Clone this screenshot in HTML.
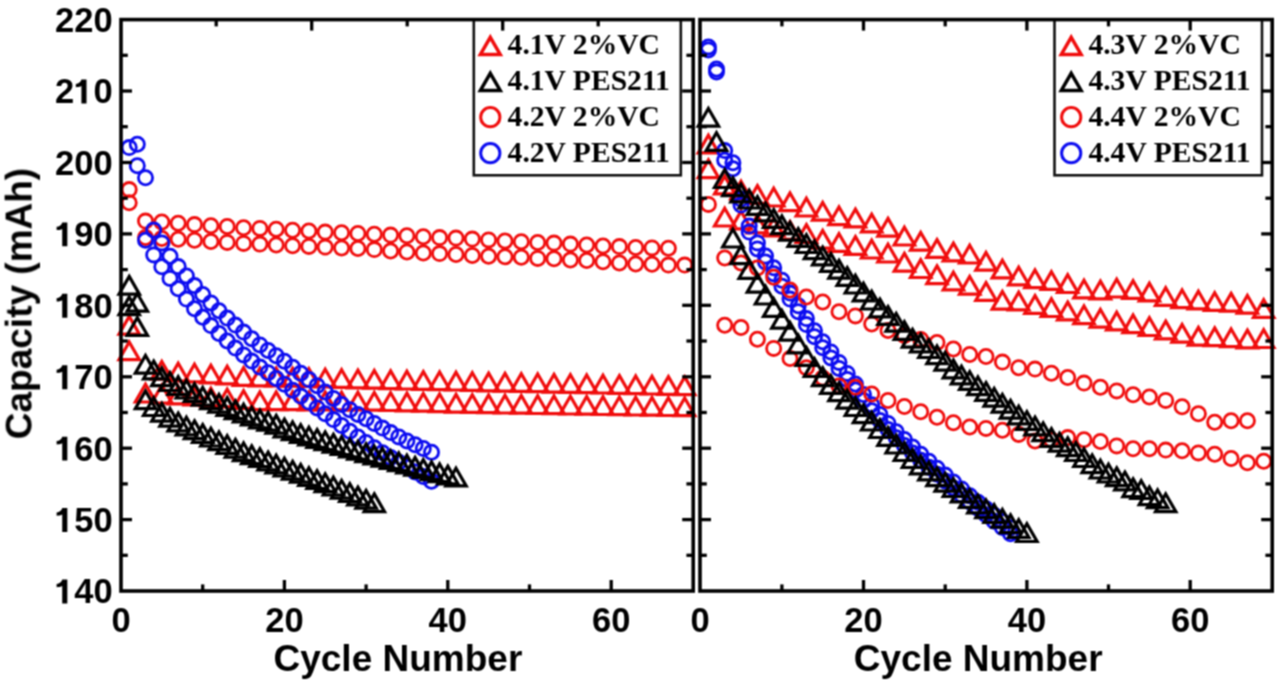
<!DOCTYPE html>
<html><head><meta charset="utf-8"><style>
html,body{margin:0;padding:0;background:#fff;width:1280px;height:680px;overflow:hidden}
svg{display:block}

.tk{font-family:"Liberation Sans",sans-serif;font-weight:bold;font-size:34.5px;fill:#000}
.ax{font-family:"Liberation Sans",sans-serif;font-weight:bold;font-size:37px;fill:#000}
.lg{font-family:"Liberation Serif",serif;font-weight:bold;font-size:29.2px;fill:#000}
</style></head><body>
<svg width="1280" height="680" viewBox="0 0 1280 680">
<defs><filter id="bl" x="0" y="0" width="1280" height="680" filterUnits="userSpaceOnUse" color-interpolation-filters="sRGB"><feConvolveMatrix order="3" kernelMatrix="1 2 1 2 4 2 1 2 1" divisor="16" edgeMode="duplicate"/></filter></defs>
<g filter="url(#bl)">
<rect width="1280" height="680" fill="#fff"/>
<g fill="none" stroke-width="3" stroke-linejoin="miter"><path d="M161.8 361.5L172.0 379.2L151.7 379.2Z" stroke="#f00d0d" stroke-width="3.2"/>
<path d="M178.2 363.3L188.4 381.0L168.0 381.0Z" stroke="#f00d0d" stroke-width="3.2"/>
<path d="M194.5 364.2L204.7 381.9L184.3 381.9Z" stroke="#f00d0d" stroke-width="3.2"/>
<path d="M210.9 365.2L221.1 382.9L200.7 382.9Z" stroke="#f00d0d" stroke-width="3.2"/>
<path d="M227.2 366.2L237.4 383.9L217.0 383.9Z" stroke="#f00d0d" stroke-width="3.2"/>
<path d="M243.6 367.7L253.8 385.4L233.4 385.4Z" stroke="#f00d0d" stroke-width="3.2"/>
<path d="M259.9 368.1L270.1 385.8L249.7 385.8Z" stroke="#f00d0d" stroke-width="3.2"/>
<path d="M276.2 368.3L286.4 386.0L266.0 386.0Z" stroke="#f00d0d" stroke-width="3.2"/>
<path d="M292.6 368.4L302.8 386.1L282.4 386.1Z" stroke="#f00d0d" stroke-width="3.2"/>
<path d="M308.9 368.7L319.1 386.4L298.7 386.4Z" stroke="#f00d0d" stroke-width="3.2"/>
<path d="M325.2 369.2L335.4 386.9L315.1 386.9Z" stroke="#f00d0d" stroke-width="3.2"/>
<path d="M341.6 369.7L351.8 387.4L331.4 387.4Z" stroke="#f00d0d" stroke-width="3.2"/>
<path d="M357.9 370.1L368.1 387.8L347.7 387.8Z" stroke="#f00d0d" stroke-width="3.2"/>
<path d="M374.3 370.5L384.5 388.2L364.1 388.2Z" stroke="#f00d0d" stroke-width="3.2"/>
<path d="M390.6 370.9L400.8 388.6L380.4 388.6Z" stroke="#f00d0d" stroke-width="3.2"/>
<path d="M406.9 371.3L417.1 389.0L396.8 389.0Z" stroke="#f00d0d" stroke-width="3.2"/>
<path d="M423.3 371.6L433.5 389.3L413.1 389.3Z" stroke="#f00d0d" stroke-width="3.2"/>
<path d="M439.6 372.0L449.8 389.7L429.4 389.7Z" stroke="#f00d0d" stroke-width="3.2"/>
<path d="M456.0 372.3L466.2 390.0L445.8 390.0Z" stroke="#f00d0d" stroke-width="3.2"/>
<path d="M472.3 372.7L482.5 390.4L462.1 390.4Z" stroke="#f00d0d" stroke-width="3.2"/>
<path d="M488.6 373.1L498.8 390.8L478.4 390.8Z" stroke="#f00d0d" stroke-width="3.2"/>
<path d="M505.0 373.4L515.2 391.1L494.8 391.1Z" stroke="#f00d0d" stroke-width="3.2"/>
<path d="M521.3 373.7L531.5 391.4L511.1 391.4Z" stroke="#f00d0d" stroke-width="3.2"/>
<path d="M537.7 374.0L547.9 391.7L527.5 391.7Z" stroke="#f00d0d" stroke-width="3.2"/>
<path d="M554.0 374.4L564.2 392.1L543.8 392.1Z" stroke="#f00d0d" stroke-width="3.2"/>
<path d="M570.4 374.7L580.6 392.4L560.1 392.4Z" stroke="#f00d0d" stroke-width="3.2"/>
<path d="M586.7 375.0L596.9 392.7L576.5 392.7Z" stroke="#f00d0d" stroke-width="3.2"/>
<path d="M603.0 375.3L613.2 393.0L592.8 393.0Z" stroke="#f00d0d" stroke-width="3.2"/>
<path d="M619.4 375.6L629.6 393.3L609.2 393.3Z" stroke="#f00d0d" stroke-width="3.2"/>
<path d="M635.7 376.0L645.9 393.7L625.5 393.7Z" stroke="#f00d0d" stroke-width="3.2"/>
<path d="M652.0 376.3L662.2 394.0L641.8 394.0Z" stroke="#f00d0d" stroke-width="3.2"/>
<path d="M668.4 376.6L678.6 394.3L658.2 394.3Z" stroke="#f00d0d" stroke-width="3.2"/>
<path d="M684.7 376.9L694.9 394.6L674.5 394.6Z" stroke="#f00d0d" stroke-width="3.2"/>
<path d="M145.5 384.3L155.7 402.0L135.3 402.0Z" stroke="#f00d0d" stroke-width="3.2"/>
<path d="M161.8 385.3L172.0 403.0L151.7 403.0Z" stroke="#f00d0d" stroke-width="3.2"/>
<path d="M178.2 386.2L188.4 403.9L168.0 403.9Z" stroke="#f00d0d" stroke-width="3.2"/>
<path d="M194.5 387.2L204.7 404.9L184.3 404.9Z" stroke="#f00d0d" stroke-width="3.2"/>
<path d="M210.9 388.2L221.1 405.9L200.7 405.9Z" stroke="#f00d0d" stroke-width="3.2"/>
<path d="M227.2 389.2L237.4 406.9L217.0 406.9Z" stroke="#f00d0d" stroke-width="3.2"/>
<path d="M243.6 390.7L253.8 408.4L233.4 408.4Z" stroke="#f00d0d" stroke-width="3.2"/>
<path d="M259.9 392.0L270.1 409.7L249.7 409.7Z" stroke="#f00d0d" stroke-width="3.2"/>
<path d="M276.2 392.0L286.4 409.7L266.0 409.7Z" stroke="#f00d0d" stroke-width="3.2"/>
<path d="M292.6 392.0L302.8 409.7L282.4 409.7Z" stroke="#f00d0d" stroke-width="3.2"/>
<path d="M308.9 392.1L319.1 409.8L298.7 409.8Z" stroke="#f00d0d" stroke-width="3.2"/>
<path d="M325.2 392.1L335.4 409.8L315.1 409.8Z" stroke="#f00d0d" stroke-width="3.2"/>
<path d="M341.6 392.2L351.8 409.9L331.4 409.9Z" stroke="#f00d0d" stroke-width="3.2"/>
<path d="M357.9 392.3L368.1 410.0L347.7 410.0Z" stroke="#f00d0d" stroke-width="3.2"/>
<path d="M374.3 392.5L384.5 410.2L364.1 410.2Z" stroke="#f00d0d" stroke-width="3.2"/>
<path d="M390.6 392.8L400.8 410.5L380.4 410.5Z" stroke="#f00d0d" stroke-width="3.2"/>
<path d="M406.9 393.1L417.1 410.8L396.8 410.8Z" stroke="#f00d0d" stroke-width="3.2"/>
<path d="M423.3 393.5L433.5 411.2L413.1 411.2Z" stroke="#f00d0d" stroke-width="3.2"/>
<path d="M439.6 394.0L449.8 411.7L429.4 411.7Z" stroke="#f00d0d" stroke-width="3.2"/>
<path d="M456.0 394.4L466.2 412.1L445.8 412.1Z" stroke="#f00d0d" stroke-width="3.2"/>
<path d="M472.3 394.7L482.5 412.4L462.1 412.4Z" stroke="#f00d0d" stroke-width="3.2"/>
<path d="M488.6 395.0L498.8 412.7L478.4 412.7Z" stroke="#f00d0d" stroke-width="3.2"/>
<path d="M505.0 395.3L515.2 413.0L494.8 413.0Z" stroke="#f00d0d" stroke-width="3.2"/>
<path d="M521.3 395.5L531.5 413.2L511.1 413.2Z" stroke="#f00d0d" stroke-width="3.2"/>
<path d="M537.7 395.8L547.9 413.5L527.5 413.5Z" stroke="#f00d0d" stroke-width="3.2"/>
<path d="M554.0 396.0L564.2 413.7L543.8 413.7Z" stroke="#f00d0d" stroke-width="3.2"/>
<path d="M570.4 396.3L580.6 414.0L560.1 414.0Z" stroke="#f00d0d" stroke-width="3.2"/>
<path d="M586.7 396.5L596.9 414.2L576.5 414.2Z" stroke="#f00d0d" stroke-width="3.2"/>
<path d="M603.0 396.8L613.2 414.5L592.8 414.5Z" stroke="#f00d0d" stroke-width="3.2"/>
<path d="M619.4 397.0L629.6 414.7L609.2 414.7Z" stroke="#f00d0d" stroke-width="3.2"/>
<path d="M635.7 397.3L645.9 415.0L625.5 415.0Z" stroke="#f00d0d" stroke-width="3.2"/>
<path d="M652.0 397.5L662.2 415.2L641.8 415.2Z" stroke="#f00d0d" stroke-width="3.2"/>
<path d="M668.4 397.8L678.6 415.5L658.2 415.5Z" stroke="#f00d0d" stroke-width="3.2"/>
<path d="M684.7 398.0L694.9 415.7L674.5 415.7Z" stroke="#f00d0d" stroke-width="3.2"/>
<path d="M129.2 316.4L139.4 334.1L119.0 334.1Z" stroke="#f00d0d" stroke-width="3.2"/>
<path d="M129.2 342.0L139.4 359.7L119.0 359.7Z" stroke="#f00d0d" stroke-width="3.2"/>
<circle cx="145.5" cy="221.1" r="7.1" stroke="#f00d0d" stroke-width="2.8"/>
<circle cx="161.8" cy="222.0" r="7.1" stroke="#f00d0d" stroke-width="2.8"/>
<circle cx="178.2" cy="223.3" r="7.1" stroke="#f00d0d" stroke-width="2.8"/>
<circle cx="194.5" cy="224.6" r="7.1" stroke="#f00d0d" stroke-width="2.8"/>
<circle cx="210.9" cy="225.8" r="7.1" stroke="#f00d0d" stroke-width="2.8"/>
<circle cx="227.2" cy="226.5" r="7.1" stroke="#f00d0d" stroke-width="2.8"/>
<circle cx="243.6" cy="227.7" r="7.1" stroke="#f00d0d" stroke-width="2.8"/>
<circle cx="259.9" cy="228.4" r="7.1" stroke="#f00d0d" stroke-width="2.8"/>
<circle cx="276.2" cy="229.3" r="7.1" stroke="#f00d0d" stroke-width="2.8"/>
<circle cx="292.6" cy="230.3" r="7.1" stroke="#f00d0d" stroke-width="2.8"/>
<circle cx="308.9" cy="231.0" r="7.1" stroke="#f00d0d" stroke-width="2.8"/>
<circle cx="325.2" cy="232.1" r="7.1" stroke="#f00d0d" stroke-width="2.8"/>
<circle cx="341.6" cy="232.8" r="7.1" stroke="#f00d0d" stroke-width="2.8"/>
<circle cx="357.9" cy="233.5" r="7.1" stroke="#f00d0d" stroke-width="2.8"/>
<circle cx="374.3" cy="234.3" r="7.1" stroke="#f00d0d" stroke-width="2.8"/>
<circle cx="390.6" cy="235.1" r="7.1" stroke="#f00d0d" stroke-width="2.8"/>
<circle cx="406.9" cy="235.8" r="7.1" stroke="#f00d0d" stroke-width="2.8"/>
<circle cx="423.3" cy="236.7" r="7.1" stroke="#f00d0d" stroke-width="2.8"/>
<circle cx="439.6" cy="237.6" r="7.1" stroke="#f00d0d" stroke-width="2.8"/>
<circle cx="456.0" cy="238.1" r="7.1" stroke="#f00d0d" stroke-width="2.8"/>
<circle cx="472.3" cy="239.1" r="7.1" stroke="#f00d0d" stroke-width="2.8"/>
<circle cx="488.6" cy="239.9" r="7.1" stroke="#f00d0d" stroke-width="2.8"/>
<circle cx="505.0" cy="241.0" r="7.1" stroke="#f00d0d" stroke-width="2.8"/>
<circle cx="521.3" cy="241.8" r="7.1" stroke="#f00d0d" stroke-width="2.8"/>
<circle cx="537.7" cy="242.5" r="7.1" stroke="#f00d0d" stroke-width="2.8"/>
<circle cx="554.0" cy="243.1" r="7.1" stroke="#f00d0d" stroke-width="2.8"/>
<circle cx="570.4" cy="244.1" r="7.1" stroke="#f00d0d" stroke-width="2.8"/>
<circle cx="586.7" cy="245.0" r="7.1" stroke="#f00d0d" stroke-width="2.8"/>
<circle cx="603.0" cy="246.0" r="7.1" stroke="#f00d0d" stroke-width="2.8"/>
<circle cx="619.4" cy="246.6" r="7.1" stroke="#f00d0d" stroke-width="2.8"/>
<circle cx="635.7" cy="247.5" r="7.1" stroke="#f00d0d" stroke-width="2.8"/>
<circle cx="652.0" cy="247.9" r="7.1" stroke="#f00d0d" stroke-width="2.8"/>
<circle cx="668.4" cy="248.3" r="7.1" stroke="#f00d0d" stroke-width="2.8"/>
<circle cx="145.5" cy="237.5" r="7.1" stroke="#f00d0d" stroke-width="2.8"/>
<circle cx="161.8" cy="238.5" r="7.1" stroke="#f00d0d" stroke-width="2.8"/>
<circle cx="178.2" cy="239.2" r="7.1" stroke="#f00d0d" stroke-width="2.8"/>
<circle cx="194.5" cy="240.2" r="7.1" stroke="#f00d0d" stroke-width="2.8"/>
<circle cx="210.9" cy="241.5" r="7.1" stroke="#f00d0d" stroke-width="2.8"/>
<circle cx="227.2" cy="242.4" r="7.1" stroke="#f00d0d" stroke-width="2.8"/>
<circle cx="243.6" cy="243.4" r="7.1" stroke="#f00d0d" stroke-width="2.8"/>
<circle cx="259.9" cy="244.1" r="7.1" stroke="#f00d0d" stroke-width="2.8"/>
<circle cx="276.2" cy="245.0" r="7.1" stroke="#f00d0d" stroke-width="2.8"/>
<circle cx="292.6" cy="245.7" r="7.1" stroke="#f00d0d" stroke-width="2.8"/>
<circle cx="308.9" cy="246.4" r="7.1" stroke="#f00d0d" stroke-width="2.8"/>
<circle cx="325.2" cy="247.1" r="7.1" stroke="#f00d0d" stroke-width="2.8"/>
<circle cx="341.6" cy="248.0" r="7.1" stroke="#f00d0d" stroke-width="2.8"/>
<circle cx="357.9" cy="248.5" r="7.1" stroke="#f00d0d" stroke-width="2.8"/>
<circle cx="374.3" cy="249.6" r="7.1" stroke="#f00d0d" stroke-width="2.8"/>
<circle cx="390.6" cy="251.0" r="7.1" stroke="#f00d0d" stroke-width="2.8"/>
<circle cx="406.9" cy="252.0" r="7.1" stroke="#f00d0d" stroke-width="2.8"/>
<circle cx="423.3" cy="253.0" r="7.1" stroke="#f00d0d" stroke-width="2.8"/>
<circle cx="439.6" cy="253.6" r="7.1" stroke="#f00d0d" stroke-width="2.8"/>
<circle cx="456.0" cy="254.5" r="7.1" stroke="#f00d0d" stroke-width="2.8"/>
<circle cx="472.3" cy="255.5" r="7.1" stroke="#f00d0d" stroke-width="2.8"/>
<circle cx="488.6" cy="256.2" r="7.1" stroke="#f00d0d" stroke-width="2.8"/>
<circle cx="505.0" cy="256.8" r="7.1" stroke="#f00d0d" stroke-width="2.8"/>
<circle cx="521.3" cy="257.3" r="7.1" stroke="#f00d0d" stroke-width="2.8"/>
<circle cx="537.7" cy="258.4" r="7.1" stroke="#f00d0d" stroke-width="2.8"/>
<circle cx="554.0" cy="258.8" r="7.1" stroke="#f00d0d" stroke-width="2.8"/>
<circle cx="570.4" cy="260.0" r="7.1" stroke="#f00d0d" stroke-width="2.8"/>
<circle cx="586.7" cy="260.5" r="7.1" stroke="#f00d0d" stroke-width="2.8"/>
<circle cx="603.0" cy="261.7" r="7.1" stroke="#f00d0d" stroke-width="2.8"/>
<circle cx="619.4" cy="263.0" r="7.1" stroke="#f00d0d" stroke-width="2.8"/>
<circle cx="635.7" cy="264.0" r="7.1" stroke="#f00d0d" stroke-width="2.8"/>
<circle cx="652.0" cy="264.3" r="7.1" stroke="#f00d0d" stroke-width="2.8"/>
<circle cx="668.4" cy="265.1" r="7.1" stroke="#f00d0d" stroke-width="2.8"/>
<circle cx="684.7" cy="265.1" r="7.1" stroke="#f00d0d" stroke-width="2.8"/>
<circle cx="129.2" cy="189.6" r="7.1" stroke="#f00d0d" stroke-width="2.8"/>
<circle cx="129.2" cy="202.8" r="7.1" stroke="#f00d0d" stroke-width="2.8"/>
<circle cx="153.7" cy="230.1" r="7.1" stroke="#0d0df0" stroke-width="2.8"/>
<circle cx="161.8" cy="242.9" r="7.1" stroke="#0d0df0" stroke-width="2.8"/>
<circle cx="170.0" cy="256.2" r="7.1" stroke="#0d0df0" stroke-width="2.8"/>
<circle cx="178.2" cy="266.6" r="7.1" stroke="#0d0df0" stroke-width="2.8"/>
<circle cx="186.4" cy="275.9" r="7.1" stroke="#0d0df0" stroke-width="2.8"/>
<circle cx="194.5" cy="285.6" r="7.1" stroke="#0d0df0" stroke-width="2.8"/>
<circle cx="202.7" cy="294.5" r="7.1" stroke="#0d0df0" stroke-width="2.8"/>
<circle cx="210.9" cy="302.9" r="7.1" stroke="#0d0df0" stroke-width="2.8"/>
<circle cx="219.0" cy="310.8" r="7.1" stroke="#0d0df0" stroke-width="2.8"/>
<circle cx="227.2" cy="318.1" r="7.1" stroke="#0d0df0" stroke-width="2.8"/>
<circle cx="235.4" cy="325.1" r="7.1" stroke="#0d0df0" stroke-width="2.8"/>
<circle cx="243.6" cy="332.1" r="7.1" stroke="#0d0df0" stroke-width="2.8"/>
<circle cx="251.7" cy="338.8" r="7.1" stroke="#0d0df0" stroke-width="2.8"/>
<circle cx="259.9" cy="344.9" r="7.1" stroke="#0d0df0" stroke-width="2.8"/>
<circle cx="268.1" cy="350.5" r="7.1" stroke="#0d0df0" stroke-width="2.8"/>
<circle cx="276.2" cy="355.8" r="7.1" stroke="#0d0df0" stroke-width="2.8"/>
<circle cx="284.4" cy="361.3" r="7.1" stroke="#0d0df0" stroke-width="2.8"/>
<circle cx="292.6" cy="367.2" r="7.1" stroke="#0d0df0" stroke-width="2.8"/>
<circle cx="300.7" cy="373.3" r="7.1" stroke="#0d0df0" stroke-width="2.8"/>
<circle cx="308.9" cy="379.6" r="7.1" stroke="#0d0df0" stroke-width="2.8"/>
<circle cx="317.1" cy="385.8" r="7.1" stroke="#0d0df0" stroke-width="2.8"/>
<circle cx="325.2" cy="392.0" r="7.1" stroke="#0d0df0" stroke-width="2.8"/>
<circle cx="333.4" cy="398.4" r="7.1" stroke="#0d0df0" stroke-width="2.8"/>
<circle cx="341.6" cy="404.5" r="7.1" stroke="#0d0df0" stroke-width="2.8"/>
<circle cx="349.8" cy="409.8" r="7.1" stroke="#0d0df0" stroke-width="2.8"/>
<circle cx="357.9" cy="414.4" r="7.1" stroke="#0d0df0" stroke-width="2.8"/>
<circle cx="366.1" cy="418.8" r="7.1" stroke="#0d0df0" stroke-width="2.8"/>
<circle cx="374.3" cy="423.4" r="7.1" stroke="#0d0df0" stroke-width="2.8"/>
<circle cx="382.4" cy="428.1" r="7.1" stroke="#0d0df0" stroke-width="2.8"/>
<circle cx="390.6" cy="432.6" r="7.1" stroke="#0d0df0" stroke-width="2.8"/>
<circle cx="398.8" cy="436.9" r="7.1" stroke="#0d0df0" stroke-width="2.8"/>
<circle cx="406.9" cy="440.9" r="7.1" stroke="#0d0df0" stroke-width="2.8"/>
<circle cx="415.1" cy="444.7" r="7.1" stroke="#0d0df0" stroke-width="2.8"/>
<circle cx="423.3" cy="448.5" r="7.1" stroke="#0d0df0" stroke-width="2.8"/>
<circle cx="431.5" cy="452.2" r="7.1" stroke="#0d0df0" stroke-width="2.8"/>
<circle cx="145.5" cy="240.3" r="7.1" stroke="#0d0df0" stroke-width="2.8"/>
<circle cx="153.7" cy="254.9" r="7.1" stroke="#0d0df0" stroke-width="2.8"/>
<circle cx="161.8" cy="266.7" r="7.1" stroke="#0d0df0" stroke-width="2.8"/>
<circle cx="170.0" cy="278.4" r="7.1" stroke="#0d0df0" stroke-width="2.8"/>
<circle cx="178.2" cy="288.7" r="7.1" stroke="#0d0df0" stroke-width="2.8"/>
<circle cx="186.4" cy="299.1" r="7.1" stroke="#0d0df0" stroke-width="2.8"/>
<circle cx="194.5" cy="308.7" r="7.1" stroke="#0d0df0" stroke-width="2.8"/>
<circle cx="202.7" cy="317.3" r="7.1" stroke="#0d0df0" stroke-width="2.8"/>
<circle cx="210.9" cy="325.6" r="7.1" stroke="#0d0df0" stroke-width="2.8"/>
<circle cx="219.0" cy="333.5" r="7.1" stroke="#0d0df0" stroke-width="2.8"/>
<circle cx="227.2" cy="341.0" r="7.1" stroke="#0d0df0" stroke-width="2.8"/>
<circle cx="235.4" cy="348.1" r="7.1" stroke="#0d0df0" stroke-width="2.8"/>
<circle cx="243.6" cy="354.9" r="7.1" stroke="#0d0df0" stroke-width="2.8"/>
<circle cx="251.7" cy="361.1" r="7.1" stroke="#0d0df0" stroke-width="2.8"/>
<circle cx="259.9" cy="367.1" r="7.1" stroke="#0d0df0" stroke-width="2.8"/>
<circle cx="268.1" cy="372.8" r="7.1" stroke="#0d0df0" stroke-width="2.8"/>
<circle cx="276.2" cy="378.5" r="7.1" stroke="#0d0df0" stroke-width="2.8"/>
<circle cx="284.4" cy="384.3" r="7.1" stroke="#0d0df0" stroke-width="2.8"/>
<circle cx="292.6" cy="390.2" r="7.1" stroke="#0d0df0" stroke-width="2.8"/>
<circle cx="300.7" cy="396.1" r="7.1" stroke="#0d0df0" stroke-width="2.8"/>
<circle cx="308.9" cy="402.1" r="7.1" stroke="#0d0df0" stroke-width="2.8"/>
<circle cx="317.1" cy="407.9" r="7.1" stroke="#0d0df0" stroke-width="2.8"/>
<circle cx="325.2" cy="413.8" r="7.1" stroke="#0d0df0" stroke-width="2.8"/>
<circle cx="333.4" cy="419.6" r="7.1" stroke="#0d0df0" stroke-width="2.8"/>
<circle cx="341.6" cy="425.5" r="7.1" stroke="#0d0df0" stroke-width="2.8"/>
<circle cx="349.8" cy="431.3" r="7.1" stroke="#0d0df0" stroke-width="2.8"/>
<circle cx="357.9" cy="437.0" r="7.1" stroke="#0d0df0" stroke-width="2.8"/>
<circle cx="366.1" cy="442.5" r="7.1" stroke="#0d0df0" stroke-width="2.8"/>
<circle cx="374.3" cy="447.7" r="7.1" stroke="#0d0df0" stroke-width="2.8"/>
<circle cx="382.4" cy="452.7" r="7.1" stroke="#0d0df0" stroke-width="2.8"/>
<circle cx="390.6" cy="457.5" r="7.1" stroke="#0d0df0" stroke-width="2.8"/>
<circle cx="398.8" cy="462.3" r="7.1" stroke="#0d0df0" stroke-width="2.8"/>
<circle cx="406.9" cy="467.1" r="7.1" stroke="#0d0df0" stroke-width="2.8"/>
<circle cx="415.1" cy="471.9" r="7.1" stroke="#0d0df0" stroke-width="2.8"/>
<circle cx="423.3" cy="476.6" r="7.1" stroke="#0d0df0" stroke-width="2.8"/>
<circle cx="431.5" cy="481.3" r="7.1" stroke="#0d0df0" stroke-width="2.8"/>
<circle cx="129.2" cy="147.6" r="7.1" stroke="#0d0df0" stroke-width="2.8"/>
<circle cx="137.3" cy="144.3" r="7.1" stroke="#0d0df0" stroke-width="2.8"/>
<circle cx="137.3" cy="165.7" r="7.1" stroke="#0d0df0" stroke-width="2.8"/>
<circle cx="145.5" cy="177.8" r="7.1" stroke="#0d0df0" stroke-width="2.8"/>
<path d="M145.5 355.5L155.7 373.2L135.3 373.2Z" stroke="#000" stroke-width="3.2"/>
<path d="M153.7 361.1L163.9 378.8L143.5 378.8Z" stroke="#000" stroke-width="3.2"/>
<path d="M161.8 368.0L172.0 385.7L151.7 385.7Z" stroke="#000" stroke-width="3.2"/>
<path d="M170.0 372.8L180.2 390.5L159.8 390.5Z" stroke="#000" stroke-width="3.2"/>
<path d="M178.2 376.7L188.4 394.4L168.0 394.4Z" stroke="#000" stroke-width="3.2"/>
<path d="M186.4 380.3L196.6 398.0L176.2 398.0Z" stroke="#000" stroke-width="3.2"/>
<path d="M194.5 383.7L204.7 401.4L184.3 401.4Z" stroke="#000" stroke-width="3.2"/>
<path d="M202.7 387.5L212.9 405.2L192.5 405.2Z" stroke="#000" stroke-width="3.2"/>
<path d="M210.9 390.9L221.1 408.6L200.7 408.6Z" stroke="#000" stroke-width="3.2"/>
<path d="M219.0 394.5L229.2 412.2L208.8 412.2Z" stroke="#000" stroke-width="3.2"/>
<path d="M227.2 397.6L237.4 415.3L217.0 415.3Z" stroke="#000" stroke-width="3.2"/>
<path d="M235.4 400.9L245.6 418.6L225.2 418.6Z" stroke="#000" stroke-width="3.2"/>
<path d="M243.6 404.2L253.8 421.9L233.4 421.9Z" stroke="#000" stroke-width="3.2"/>
<path d="M251.7 407.2L261.9 424.9L241.5 424.9Z" stroke="#000" stroke-width="3.2"/>
<path d="M259.9 410.1L270.1 427.8L249.7 427.8Z" stroke="#000" stroke-width="3.2"/>
<path d="M268.1 412.5L278.3 430.2L257.9 430.2Z" stroke="#000" stroke-width="3.2"/>
<path d="M276.2 415.4L286.4 433.1L266.0 433.1Z" stroke="#000" stroke-width="3.2"/>
<path d="M284.4 419.1L294.6 436.8L274.2 436.8Z" stroke="#000" stroke-width="3.2"/>
<path d="M292.6 422.0L302.8 439.7L282.4 439.7Z" stroke="#000" stroke-width="3.2"/>
<path d="M300.7 424.7L310.9 442.4L290.5 442.4Z" stroke="#000" stroke-width="3.2"/>
<path d="M308.9 427.2L319.1 444.9L298.7 444.9Z" stroke="#000" stroke-width="3.2"/>
<path d="M317.1 429.6L327.3 447.3L306.9 447.3Z" stroke="#000" stroke-width="3.2"/>
<path d="M325.2 432.0L335.4 449.7L315.1 449.7Z" stroke="#000" stroke-width="3.2"/>
<path d="M333.4 434.4L343.6 452.1L323.2 452.1Z" stroke="#000" stroke-width="3.2"/>
<path d="M341.6 436.8L351.8 454.5L331.4 454.5Z" stroke="#000" stroke-width="3.2"/>
<path d="M349.8 439.2L360.0 456.9L339.6 456.9Z" stroke="#000" stroke-width="3.2"/>
<path d="M357.9 441.5L368.1 459.2L347.7 459.2Z" stroke="#000" stroke-width="3.2"/>
<path d="M366.1 443.9L376.3 461.6L355.9 461.6Z" stroke="#000" stroke-width="3.2"/>
<path d="M374.3 446.2L384.5 463.9L364.1 463.9Z" stroke="#000" stroke-width="3.2"/>
<path d="M382.4 448.5L392.6 466.2L372.2 466.2Z" stroke="#000" stroke-width="3.2"/>
<path d="M390.6 450.8L400.8 468.5L380.4 468.5Z" stroke="#000" stroke-width="3.2"/>
<path d="M398.8 453.0L409.0 470.7L388.6 470.7Z" stroke="#000" stroke-width="3.2"/>
<path d="M406.9 455.3L417.1 473.0L396.8 473.0Z" stroke="#000" stroke-width="3.2"/>
<path d="M415.1 457.5L425.3 475.2L404.9 475.2Z" stroke="#000" stroke-width="3.2"/>
<path d="M423.3 459.7L433.5 477.4L413.1 477.4Z" stroke="#000" stroke-width="3.2"/>
<path d="M431.5 461.9L441.7 479.6L421.3 479.6Z" stroke="#000" stroke-width="3.2"/>
<path d="M439.6 464.0L449.8 481.7L429.4 481.7Z" stroke="#000" stroke-width="3.2"/>
<path d="M447.8 466.1L458.0 483.8L437.6 483.8Z" stroke="#000" stroke-width="3.2"/>
<path d="M456.0 468.2L466.2 485.9L445.8 485.9Z" stroke="#000" stroke-width="3.2"/>
<path d="M145.5 391.0L155.7 408.7L135.3 408.7Z" stroke="#000" stroke-width="3.2"/>
<path d="M153.7 397.8L163.9 415.5L143.5 415.5Z" stroke="#000" stroke-width="3.2"/>
<path d="M161.8 403.4L172.0 421.1L151.7 421.1Z" stroke="#000" stroke-width="3.2"/>
<path d="M170.0 408.5L180.2 426.2L159.8 426.2Z" stroke="#000" stroke-width="3.2"/>
<path d="M178.2 413.1L188.4 430.8L168.0 430.8Z" stroke="#000" stroke-width="3.2"/>
<path d="M186.4 417.2L196.6 434.9L176.2 434.9Z" stroke="#000" stroke-width="3.2"/>
<path d="M194.5 420.9L204.7 438.6L184.3 438.6Z" stroke="#000" stroke-width="3.2"/>
<path d="M202.7 424.6L212.9 442.3L192.5 442.3Z" stroke="#000" stroke-width="3.2"/>
<path d="M210.9 428.3L221.1 446.0L200.7 446.0Z" stroke="#000" stroke-width="3.2"/>
<path d="M219.0 432.0L229.2 449.7L208.8 449.7Z" stroke="#000" stroke-width="3.2"/>
<path d="M227.2 435.7L237.4 453.4L217.0 453.4Z" stroke="#000" stroke-width="3.2"/>
<path d="M235.4 439.4L245.6 457.1L225.2 457.1Z" stroke="#000" stroke-width="3.2"/>
<path d="M243.6 443.0L253.8 460.7L233.4 460.7Z" stroke="#000" stroke-width="3.2"/>
<path d="M251.7 445.9L261.9 463.6L241.5 463.6Z" stroke="#000" stroke-width="3.2"/>
<path d="M259.9 448.8L270.1 466.5L249.7 466.5Z" stroke="#000" stroke-width="3.2"/>
<path d="M268.1 452.1L278.3 469.8L257.9 469.8Z" stroke="#000" stroke-width="3.2"/>
<path d="M276.2 455.2L286.4 472.9L266.0 472.9Z" stroke="#000" stroke-width="3.2"/>
<path d="M284.4 458.3L294.6 476.0L274.2 476.0Z" stroke="#000" stroke-width="3.2"/>
<path d="M292.6 461.4L302.8 479.1L282.4 479.1Z" stroke="#000" stroke-width="3.2"/>
<path d="M300.7 464.5L310.9 482.2L290.5 482.2Z" stroke="#000" stroke-width="3.2"/>
<path d="M308.9 467.7L319.1 485.4L298.7 485.4Z" stroke="#000" stroke-width="3.2"/>
<path d="M317.1 470.8L327.3 488.5L306.9 488.5Z" stroke="#000" stroke-width="3.2"/>
<path d="M325.2 474.0L335.4 491.7L315.1 491.7Z" stroke="#000" stroke-width="3.2"/>
<path d="M333.4 477.3L343.6 495.0L323.2 495.0Z" stroke="#000" stroke-width="3.2"/>
<path d="M341.6 480.5L351.8 498.2L331.4 498.2Z" stroke="#000" stroke-width="3.2"/>
<path d="M349.8 483.8L360.0 501.5L339.6 501.5Z" stroke="#000" stroke-width="3.2"/>
<path d="M357.9 487.1L368.1 504.8L347.7 504.8Z" stroke="#000" stroke-width="3.2"/>
<path d="M366.1 490.5L376.3 508.2L355.9 508.2Z" stroke="#000" stroke-width="3.2"/>
<path d="M374.3 493.9L384.5 511.6L364.1 511.6Z" stroke="#000" stroke-width="3.2"/>
<path d="M129.2 276.4L139.4 294.1L119.0 294.1Z" stroke="#000" stroke-width="3.2"/>
<path d="M137.3 293.5L147.5 311.2L127.1 311.2Z" stroke="#000" stroke-width="3.2"/>
<path d="M129.2 297.0L139.4 314.7L119.0 314.7Z" stroke="#000" stroke-width="3.2"/>
<path d="M137.3 317.6L147.5 335.3L127.1 335.3Z" stroke="#000" stroke-width="3.2"/></g>
<g fill="none" stroke-width="3" stroke-linejoin="miter"><path d="M757.4 185.6L767.6 203.3L747.2 203.3Z" stroke="#f00d0d" stroke-width="3.2"/>
<path d="M773.7 188.3L783.9 206.0L763.5 206.0Z" stroke="#f00d0d" stroke-width="3.2"/>
<path d="M790.0 193.0L800.2 210.7L779.8 210.7Z" stroke="#f00d0d" stroke-width="3.2"/>
<path d="M806.4 198.3L816.6 216.0L796.2 216.0Z" stroke="#f00d0d" stroke-width="3.2"/>
<path d="M822.7 202.5L832.9 220.2L812.5 220.2Z" stroke="#f00d0d" stroke-width="3.2"/>
<path d="M839.0 207.0L849.2 224.7L828.8 224.7Z" stroke="#f00d0d" stroke-width="3.2"/>
<path d="M855.4 209.1L865.6 226.8L845.2 226.8Z" stroke="#f00d0d" stroke-width="3.2"/>
<path d="M871.7 214.2L881.9 231.9L861.5 231.9Z" stroke="#f00d0d" stroke-width="3.2"/>
<path d="M888.0 218.4L898.2 236.1L877.8 236.1Z" stroke="#f00d0d" stroke-width="3.2"/>
<path d="M904.4 227.3L914.6 245.0L894.2 245.0Z" stroke="#f00d0d" stroke-width="3.2"/>
<path d="M920.7 232.5L930.9 250.2L910.5 250.2Z" stroke="#f00d0d" stroke-width="3.2"/>
<path d="M937.0 239.6L947.2 257.3L926.8 257.3Z" stroke="#f00d0d" stroke-width="3.2"/>
<path d="M953.4 243.1L963.6 260.8L943.2 260.8Z" stroke="#f00d0d" stroke-width="3.2"/>
<path d="M969.7 245.3L979.9 263.0L959.5 263.0Z" stroke="#f00d0d" stroke-width="3.2"/>
<path d="M986.0 252.5L996.2 270.2L975.8 270.2Z" stroke="#f00d0d" stroke-width="3.2"/>
<path d="M1002.4 260.2L1012.6 277.9L992.2 277.9Z" stroke="#f00d0d" stroke-width="3.2"/>
<path d="M1018.7 267.2L1028.9 284.9L1008.5 284.9Z" stroke="#f00d0d" stroke-width="3.2"/>
<path d="M1035.0 270.0L1045.2 287.7L1024.8 287.7Z" stroke="#f00d0d" stroke-width="3.2"/>
<path d="M1051.4 271.7L1061.6 289.4L1041.2 289.4Z" stroke="#f00d0d" stroke-width="3.2"/>
<path d="M1067.7 274.8L1077.9 292.5L1057.5 292.5Z" stroke="#f00d0d" stroke-width="3.2"/>
<path d="M1084.0 280.2L1094.2 297.9L1073.8 297.9Z" stroke="#f00d0d" stroke-width="3.2"/>
<path d="M1100.4 281.1L1110.6 298.8L1090.2 298.8Z" stroke="#f00d0d" stroke-width="3.2"/>
<path d="M1116.7 279.3L1126.9 297.0L1106.5 297.0Z" stroke="#f00d0d" stroke-width="3.2"/>
<path d="M1133.1 280.7L1143.3 298.4L1122.9 298.4Z" stroke="#f00d0d" stroke-width="3.2"/>
<path d="M1149.4 283.2L1159.6 300.9L1139.2 300.9Z" stroke="#f00d0d" stroke-width="3.2"/>
<path d="M1165.7 287.7L1175.9 305.4L1155.5 305.4Z" stroke="#f00d0d" stroke-width="3.2"/>
<path d="M1182.1 290.0L1192.3 307.7L1171.9 307.7Z" stroke="#f00d0d" stroke-width="3.2"/>
<path d="M1198.4 291.2L1208.6 308.9L1188.2 308.9Z" stroke="#f00d0d" stroke-width="3.2"/>
<path d="M1214.7 292.7L1224.9 310.4L1204.5 310.4Z" stroke="#f00d0d" stroke-width="3.2"/>
<path d="M1231.1 293.4L1241.3 311.1L1220.9 311.1Z" stroke="#f00d0d" stroke-width="3.2"/>
<path d="M1247.4 295.5L1257.6 313.2L1237.2 313.2Z" stroke="#f00d0d" stroke-width="3.2"/>
<path d="M1263.7 299.7L1273.9 317.4L1253.5 317.4Z" stroke="#f00d0d" stroke-width="3.2"/>
<path d="M724.7 208.3L734.9 226.0L714.5 226.0Z" stroke="#f00d0d" stroke-width="3.2"/>
<path d="M741.0 211.2L751.2 228.9L730.8 228.9Z" stroke="#f00d0d" stroke-width="3.2"/>
<path d="M757.4 215.2L767.6 232.9L747.2 232.9Z" stroke="#f00d0d" stroke-width="3.2"/>
<path d="M773.7 218.1L783.9 235.8L763.5 235.8Z" stroke="#f00d0d" stroke-width="3.2"/>
<path d="M790.0 221.6L800.2 239.3L779.8 239.3Z" stroke="#f00d0d" stroke-width="3.2"/>
<path d="M806.4 224.6L816.6 242.3L796.2 242.3Z" stroke="#f00d0d" stroke-width="3.2"/>
<path d="M822.7 230.5L832.9 248.2L812.5 248.2Z" stroke="#f00d0d" stroke-width="3.2"/>
<path d="M839.0 233.7L849.2 251.4L828.8 251.4Z" stroke="#f00d0d" stroke-width="3.2"/>
<path d="M855.4 236.6L865.6 254.3L845.2 254.3Z" stroke="#f00d0d" stroke-width="3.2"/>
<path d="M871.7 240.3L881.9 258.0L861.5 258.0Z" stroke="#f00d0d" stroke-width="3.2"/>
<path d="M888.0 244.3L898.2 262.0L877.8 262.0Z" stroke="#f00d0d" stroke-width="3.2"/>
<path d="M904.4 253.4L914.6 271.1L894.2 271.1Z" stroke="#f00d0d" stroke-width="3.2"/>
<path d="M920.7 259.8L930.9 277.5L910.5 277.5Z" stroke="#f00d0d" stroke-width="3.2"/>
<path d="M937.0 265.9L947.2 283.6L926.8 283.6Z" stroke="#f00d0d" stroke-width="3.2"/>
<path d="M953.4 272.2L963.6 289.9L943.2 289.9Z" stroke="#f00d0d" stroke-width="3.2"/>
<path d="M969.7 276.5L979.9 294.2L959.5 294.2Z" stroke="#f00d0d" stroke-width="3.2"/>
<path d="M986.0 282.6L996.2 300.3L975.8 300.3Z" stroke="#f00d0d" stroke-width="3.2"/>
<path d="M1002.4 291.5L1012.6 309.2L992.2 309.2Z" stroke="#f00d0d" stroke-width="3.2"/>
<path d="M1018.7 292.2L1028.9 309.9L1008.5 309.9Z" stroke="#f00d0d" stroke-width="3.2"/>
<path d="M1035.0 295.6L1045.2 313.3L1024.8 313.3Z" stroke="#f00d0d" stroke-width="3.2"/>
<path d="M1051.4 298.8L1061.6 316.5L1041.2 316.5Z" stroke="#f00d0d" stroke-width="3.2"/>
<path d="M1067.7 302.1L1077.9 319.8L1057.5 319.8Z" stroke="#f00d0d" stroke-width="3.2"/>
<path d="M1084.0 306.0L1094.2 323.7L1073.8 323.7Z" stroke="#f00d0d" stroke-width="3.2"/>
<path d="M1100.4 309.5L1110.6 327.2L1090.2 327.2Z" stroke="#f00d0d" stroke-width="3.2"/>
<path d="M1116.7 312.2L1126.9 329.9L1106.5 329.9Z" stroke="#f00d0d" stroke-width="3.2"/>
<path d="M1133.1 315.0L1143.3 332.7L1122.9 332.7Z" stroke="#f00d0d" stroke-width="3.2"/>
<path d="M1149.4 317.8L1159.6 335.5L1139.2 335.5Z" stroke="#f00d0d" stroke-width="3.2"/>
<path d="M1165.7 321.1L1175.9 338.8L1155.5 338.8Z" stroke="#f00d0d" stroke-width="3.2"/>
<path d="M1182.1 324.5L1192.3 342.2L1171.9 342.2Z" stroke="#f00d0d" stroke-width="3.2"/>
<path d="M1198.4 327.4L1208.6 345.1L1188.2 345.1Z" stroke="#f00d0d" stroke-width="3.2"/>
<path d="M1214.7 327.9L1224.9 345.6L1204.5 345.6Z" stroke="#f00d0d" stroke-width="3.2"/>
<path d="M1231.1 329.0L1241.3 346.7L1220.9 346.7Z" stroke="#f00d0d" stroke-width="3.2"/>
<path d="M1247.4 330.1L1257.6 347.8L1237.2 347.8Z" stroke="#f00d0d" stroke-width="3.2"/>
<path d="M1263.7 329.8L1273.9 347.5L1253.5 347.5Z" stroke="#f00d0d" stroke-width="3.2"/>
<path d="M708.4 135.2L718.6 152.9L698.2 152.9Z" stroke="#f00d0d" stroke-width="3.2"/>
<path d="M708.4 159.9L718.6 177.6L698.2 177.6Z" stroke="#f00d0d" stroke-width="3.2"/>
<path d="M724.7 176.2L734.9 193.9L714.5 193.9Z" stroke="#f00d0d" stroke-width="3.2"/>
<path d="M741.0 181.2L751.2 198.9L730.8 198.9Z" stroke="#f00d0d" stroke-width="3.2"/>
<circle cx="732.9" cy="162.8" r="7.1" stroke="#0d0df0" stroke-width="2.8"/>
<circle cx="741.0" cy="199.1" r="7.1" stroke="#0d0df0" stroke-width="2.8"/>
<circle cx="749.2" cy="226.1" r="7.1" stroke="#0d0df0" stroke-width="2.8"/>
<circle cx="757.4" cy="242.9" r="7.1" stroke="#0d0df0" stroke-width="2.8"/>
<circle cx="765.5" cy="256.0" r="7.1" stroke="#0d0df0" stroke-width="2.8"/>
<circle cx="773.7" cy="267.8" r="7.1" stroke="#0d0df0" stroke-width="2.8"/>
<circle cx="781.9" cy="280.2" r="7.1" stroke="#0d0df0" stroke-width="2.8"/>
<circle cx="790.0" cy="293.1" r="7.1" stroke="#0d0df0" stroke-width="2.8"/>
<circle cx="798.2" cy="305.8" r="7.1" stroke="#0d0df0" stroke-width="2.8"/>
<circle cx="806.4" cy="318.6" r="7.1" stroke="#0d0df0" stroke-width="2.8"/>
<circle cx="814.5" cy="330.7" r="7.1" stroke="#0d0df0" stroke-width="2.8"/>
<circle cx="822.7" cy="341.7" r="7.1" stroke="#0d0df0" stroke-width="2.8"/>
<circle cx="830.9" cy="351.9" r="7.1" stroke="#0d0df0" stroke-width="2.8"/>
<circle cx="839.0" cy="362.4" r="7.1" stroke="#0d0df0" stroke-width="2.8"/>
<circle cx="847.2" cy="373.4" r="7.1" stroke="#0d0df0" stroke-width="2.8"/>
<circle cx="855.4" cy="384.0" r="7.1" stroke="#0d0df0" stroke-width="2.8"/>
<circle cx="863.5" cy="394.5" r="7.1" stroke="#0d0df0" stroke-width="2.8"/>
<circle cx="871.7" cy="404.8" r="7.1" stroke="#0d0df0" stroke-width="2.8"/>
<circle cx="879.9" cy="414.5" r="7.1" stroke="#0d0df0" stroke-width="2.8"/>
<circle cx="888.0" cy="423.4" r="7.1" stroke="#0d0df0" stroke-width="2.8"/>
<circle cx="896.2" cy="431.7" r="7.1" stroke="#0d0df0" stroke-width="2.8"/>
<circle cx="904.4" cy="439.5" r="7.1" stroke="#0d0df0" stroke-width="2.8"/>
<circle cx="912.5" cy="447.0" r="7.1" stroke="#0d0df0" stroke-width="2.8"/>
<circle cx="920.7" cy="454.3" r="7.1" stroke="#0d0df0" stroke-width="2.8"/>
<circle cx="928.9" cy="461.3" r="7.1" stroke="#0d0df0" stroke-width="2.8"/>
<circle cx="937.0" cy="468.2" r="7.1" stroke="#0d0df0" stroke-width="2.8"/>
<circle cx="945.2" cy="475.1" r="7.1" stroke="#0d0df0" stroke-width="2.8"/>
<circle cx="953.4" cy="482.0" r="7.1" stroke="#0d0df0" stroke-width="2.8"/>
<circle cx="961.5" cy="488.9" r="7.1" stroke="#0d0df0" stroke-width="2.8"/>
<circle cx="969.7" cy="495.7" r="7.1" stroke="#0d0df0" stroke-width="2.8"/>
<circle cx="977.9" cy="502.3" r="7.1" stroke="#0d0df0" stroke-width="2.8"/>
<circle cx="986.0" cy="508.8" r="7.1" stroke="#0d0df0" stroke-width="2.8"/>
<circle cx="994.2" cy="515.2" r="7.1" stroke="#0d0df0" stroke-width="2.8"/>
<circle cx="1002.4" cy="521.5" r="7.1" stroke="#0d0df0" stroke-width="2.8"/>
<circle cx="1010.5" cy="527.7" r="7.1" stroke="#0d0df0" stroke-width="2.8"/>
<circle cx="732.9" cy="168.8" r="7.1" stroke="#0d0df0" stroke-width="2.8"/>
<circle cx="741.0" cy="205.1" r="7.1" stroke="#0d0df0" stroke-width="2.8"/>
<circle cx="749.2" cy="232.1" r="7.1" stroke="#0d0df0" stroke-width="2.8"/>
<circle cx="757.4" cy="248.9" r="7.1" stroke="#0d0df0" stroke-width="2.8"/>
<circle cx="765.5" cy="262.0" r="7.1" stroke="#0d0df0" stroke-width="2.8"/>
<circle cx="773.7" cy="273.8" r="7.1" stroke="#0d0df0" stroke-width="2.8"/>
<circle cx="781.9" cy="286.2" r="7.1" stroke="#0d0df0" stroke-width="2.8"/>
<circle cx="790.0" cy="299.1" r="7.1" stroke="#0d0df0" stroke-width="2.8"/>
<circle cx="798.2" cy="311.8" r="7.1" stroke="#0d0df0" stroke-width="2.8"/>
<circle cx="806.4" cy="324.6" r="7.1" stroke="#0d0df0" stroke-width="2.8"/>
<circle cx="814.5" cy="336.7" r="7.1" stroke="#0d0df0" stroke-width="2.8"/>
<circle cx="822.7" cy="347.7" r="7.1" stroke="#0d0df0" stroke-width="2.8"/>
<circle cx="830.9" cy="357.9" r="7.1" stroke="#0d0df0" stroke-width="2.8"/>
<circle cx="839.0" cy="368.4" r="7.1" stroke="#0d0df0" stroke-width="2.8"/>
<circle cx="847.2" cy="379.4" r="7.1" stroke="#0d0df0" stroke-width="2.8"/>
<circle cx="855.4" cy="390.0" r="7.1" stroke="#0d0df0" stroke-width="2.8"/>
<circle cx="863.5" cy="400.5" r="7.1" stroke="#0d0df0" stroke-width="2.8"/>
<circle cx="871.7" cy="410.8" r="7.1" stroke="#0d0df0" stroke-width="2.8"/>
<circle cx="879.9" cy="420.5" r="7.1" stroke="#0d0df0" stroke-width="2.8"/>
<circle cx="888.0" cy="429.4" r="7.1" stroke="#0d0df0" stroke-width="2.8"/>
<circle cx="896.2" cy="437.7" r="7.1" stroke="#0d0df0" stroke-width="2.8"/>
<circle cx="904.4" cy="445.5" r="7.1" stroke="#0d0df0" stroke-width="2.8"/>
<circle cx="912.5" cy="453.0" r="7.1" stroke="#0d0df0" stroke-width="2.8"/>
<circle cx="920.7" cy="460.3" r="7.1" stroke="#0d0df0" stroke-width="2.8"/>
<circle cx="928.9" cy="467.3" r="7.1" stroke="#0d0df0" stroke-width="2.8"/>
<circle cx="937.0" cy="474.2" r="7.1" stroke="#0d0df0" stroke-width="2.8"/>
<circle cx="945.2" cy="481.1" r="7.1" stroke="#0d0df0" stroke-width="2.8"/>
<circle cx="953.4" cy="488.0" r="7.1" stroke="#0d0df0" stroke-width="2.8"/>
<circle cx="961.5" cy="494.9" r="7.1" stroke="#0d0df0" stroke-width="2.8"/>
<circle cx="969.7" cy="501.7" r="7.1" stroke="#0d0df0" stroke-width="2.8"/>
<circle cx="977.9" cy="508.3" r="7.1" stroke="#0d0df0" stroke-width="2.8"/>
<circle cx="986.0" cy="514.8" r="7.1" stroke="#0d0df0" stroke-width="2.8"/>
<circle cx="994.2" cy="521.2" r="7.1" stroke="#0d0df0" stroke-width="2.8"/>
<circle cx="1002.4" cy="527.5" r="7.1" stroke="#0d0df0" stroke-width="2.8"/>
<circle cx="1010.5" cy="533.7" r="7.1" stroke="#0d0df0" stroke-width="2.8"/>
<circle cx="708.4" cy="46.9" r="7.1" stroke="#0d0df0" stroke-width="2.8"/>
<circle cx="708.4" cy="49.9" r="7.1" stroke="#0d0df0" stroke-width="2.8"/>
<circle cx="716.5" cy="69.0" r="7.1" stroke="#0d0df0" stroke-width="2.8"/>
<circle cx="716.5" cy="71.9" r="7.1" stroke="#0d0df0" stroke-width="2.8"/>
<circle cx="724.7" cy="150.6" r="7.1" stroke="#0d0df0" stroke-width="2.8"/>
<circle cx="724.7" cy="160.3" r="7.1" stroke="#0d0df0" stroke-width="2.8"/>
<circle cx="724.7" cy="258.0" r="7.1" stroke="#f00d0d" stroke-width="2.8"/>
<circle cx="741.0" cy="263.0" r="7.1" stroke="#f00d0d" stroke-width="2.8"/>
<circle cx="757.4" cy="268.0" r="7.1" stroke="#f00d0d" stroke-width="2.8"/>
<circle cx="773.7" cy="277.3" r="7.1" stroke="#f00d0d" stroke-width="2.8"/>
<circle cx="790.0" cy="290.0" r="7.1" stroke="#f00d0d" stroke-width="2.8"/>
<circle cx="806.4" cy="297.0" r="7.1" stroke="#f00d0d" stroke-width="2.8"/>
<circle cx="822.7" cy="302.0" r="7.1" stroke="#f00d0d" stroke-width="2.8"/>
<circle cx="839.0" cy="311.8" r="7.1" stroke="#f00d0d" stroke-width="2.8"/>
<circle cx="855.4" cy="315.9" r="7.1" stroke="#f00d0d" stroke-width="2.8"/>
<circle cx="871.7" cy="324.0" r="7.1" stroke="#f00d0d" stroke-width="2.8"/>
<circle cx="888.0" cy="330.5" r="7.1" stroke="#f00d0d" stroke-width="2.8"/>
<circle cx="904.4" cy="335.5" r="7.1" stroke="#f00d0d" stroke-width="2.8"/>
<circle cx="920.7" cy="339.5" r="7.1" stroke="#f00d0d" stroke-width="2.8"/>
<circle cx="937.0" cy="342.5" r="7.1" stroke="#f00d0d" stroke-width="2.8"/>
<circle cx="953.4" cy="349.0" r="7.1" stroke="#f00d0d" stroke-width="2.8"/>
<circle cx="969.7" cy="354.5" r="7.1" stroke="#f00d0d" stroke-width="2.8"/>
<circle cx="986.0" cy="356.5" r="7.1" stroke="#f00d0d" stroke-width="2.8"/>
<circle cx="1002.4" cy="362.1" r="7.1" stroke="#f00d0d" stroke-width="2.8"/>
<circle cx="1018.7" cy="367.7" r="7.1" stroke="#f00d0d" stroke-width="2.8"/>
<circle cx="1035.0" cy="369.1" r="7.1" stroke="#f00d0d" stroke-width="2.8"/>
<circle cx="1051.4" cy="373.3" r="7.1" stroke="#f00d0d" stroke-width="2.8"/>
<circle cx="1067.7" cy="377.5" r="7.1" stroke="#f00d0d" stroke-width="2.8"/>
<circle cx="1084.0" cy="383.1" r="7.1" stroke="#f00d0d" stroke-width="2.8"/>
<circle cx="1100.4" cy="387.3" r="7.1" stroke="#f00d0d" stroke-width="2.8"/>
<circle cx="1116.7" cy="390.9" r="7.1" stroke="#f00d0d" stroke-width="2.8"/>
<circle cx="1133.1" cy="394.8" r="7.1" stroke="#f00d0d" stroke-width="2.8"/>
<circle cx="1149.4" cy="397.0" r="7.1" stroke="#f00d0d" stroke-width="2.8"/>
<circle cx="1165.7" cy="400.4" r="7.1" stroke="#f00d0d" stroke-width="2.8"/>
<circle cx="1182.1" cy="406.8" r="7.1" stroke="#f00d0d" stroke-width="2.8"/>
<circle cx="1198.4" cy="413.8" r="7.1" stroke="#f00d0d" stroke-width="2.8"/>
<circle cx="1214.7" cy="422.2" r="7.1" stroke="#f00d0d" stroke-width="2.8"/>
<circle cx="1231.1" cy="420.8" r="7.1" stroke="#f00d0d" stroke-width="2.8"/>
<circle cx="1247.4" cy="420.8" r="7.1" stroke="#f00d0d" stroke-width="2.8"/>
<circle cx="724.7" cy="325.3" r="7.1" stroke="#f00d0d" stroke-width="2.8"/>
<circle cx="741.0" cy="327.5" r="7.1" stroke="#f00d0d" stroke-width="2.8"/>
<circle cx="757.4" cy="339.2" r="7.1" stroke="#f00d0d" stroke-width="2.8"/>
<circle cx="773.7" cy="348.4" r="7.1" stroke="#f00d0d" stroke-width="2.8"/>
<circle cx="790.0" cy="358.5" r="7.1" stroke="#f00d0d" stroke-width="2.8"/>
<circle cx="806.4" cy="367.7" r="7.1" stroke="#f00d0d" stroke-width="2.8"/>
<circle cx="822.7" cy="378.0" r="7.1" stroke="#f00d0d" stroke-width="2.8"/>
<circle cx="839.0" cy="386.0" r="7.1" stroke="#f00d0d" stroke-width="2.8"/>
<circle cx="855.4" cy="387.3" r="7.1" stroke="#f00d0d" stroke-width="2.8"/>
<circle cx="871.7" cy="394.0" r="7.1" stroke="#f00d0d" stroke-width="2.8"/>
<circle cx="888.0" cy="400.5" r="7.1" stroke="#f00d0d" stroke-width="2.8"/>
<circle cx="904.4" cy="406.5" r="7.1" stroke="#f00d0d" stroke-width="2.8"/>
<circle cx="920.7" cy="411.7" r="7.1" stroke="#f00d0d" stroke-width="2.8"/>
<circle cx="937.0" cy="417.3" r="7.1" stroke="#f00d0d" stroke-width="2.8"/>
<circle cx="953.4" cy="422.8" r="7.1" stroke="#f00d0d" stroke-width="2.8"/>
<circle cx="969.7" cy="427.0" r="7.1" stroke="#f00d0d" stroke-width="2.8"/>
<circle cx="986.0" cy="428.4" r="7.1" stroke="#f00d0d" stroke-width="2.8"/>
<circle cx="1002.4" cy="430.3" r="7.1" stroke="#f00d0d" stroke-width="2.8"/>
<circle cx="1018.7" cy="434.4" r="7.1" stroke="#f00d0d" stroke-width="2.8"/>
<circle cx="1035.0" cy="441.0" r="7.1" stroke="#f00d0d" stroke-width="2.8"/>
<circle cx="1051.4" cy="440.0" r="7.1" stroke="#f00d0d" stroke-width="2.8"/>
<circle cx="1067.7" cy="437.6" r="7.1" stroke="#f00d0d" stroke-width="2.8"/>
<circle cx="1084.0" cy="439.8" r="7.1" stroke="#f00d0d" stroke-width="2.8"/>
<circle cx="1100.4" cy="441.5" r="7.1" stroke="#f00d0d" stroke-width="2.8"/>
<circle cx="1116.7" cy="445.9" r="7.1" stroke="#f00d0d" stroke-width="2.8"/>
<circle cx="1133.1" cy="448.7" r="7.1" stroke="#f00d0d" stroke-width="2.8"/>
<circle cx="1149.4" cy="448.7" r="7.1" stroke="#f00d0d" stroke-width="2.8"/>
<circle cx="1165.7" cy="450.1" r="7.1" stroke="#f00d0d" stroke-width="2.8"/>
<circle cx="1182.1" cy="450.7" r="7.1" stroke="#f00d0d" stroke-width="2.8"/>
<circle cx="1198.4" cy="452.9" r="7.1" stroke="#f00d0d" stroke-width="2.8"/>
<circle cx="1214.7" cy="454.3" r="7.1" stroke="#f00d0d" stroke-width="2.8"/>
<circle cx="1231.1" cy="458.5" r="7.1" stroke="#f00d0d" stroke-width="2.8"/>
<circle cx="1247.4" cy="462.7" r="7.1" stroke="#f00d0d" stroke-width="2.8"/>
<circle cx="1263.7" cy="461.3" r="7.1" stroke="#f00d0d" stroke-width="2.8"/>
<circle cx="708.4" cy="204.4" r="7.1" stroke="#f00d0d" stroke-width="2.8"/>
<path d="M724.7 169.8L734.9 187.5L714.5 187.5Z" stroke="#000" stroke-width="3.2"/>
<path d="M732.9 177.9L743.1 195.6L722.7 195.6Z" stroke="#000" stroke-width="3.2"/>
<path d="M741.0 184.2L751.2 201.9L730.8 201.9Z" stroke="#000" stroke-width="3.2"/>
<path d="M749.2 190.3L759.4 208.0L739.0 208.0Z" stroke="#000" stroke-width="3.2"/>
<path d="M757.4 196.6L767.6 214.3L747.2 214.3Z" stroke="#000" stroke-width="3.2"/>
<path d="M765.5 203.1L775.7 220.8L755.3 220.8Z" stroke="#000" stroke-width="3.2"/>
<path d="M773.7 209.6L783.9 227.3L763.5 227.3Z" stroke="#000" stroke-width="3.2"/>
<path d="M781.9 216.0L792.1 233.7L771.7 233.7Z" stroke="#000" stroke-width="3.2"/>
<path d="M790.0 222.4L800.2 240.1L779.8 240.1Z" stroke="#000" stroke-width="3.2"/>
<path d="M798.2 228.6L808.4 246.3L788.0 246.3Z" stroke="#000" stroke-width="3.2"/>
<path d="M806.4 234.8L816.6 252.5L796.2 252.5Z" stroke="#000" stroke-width="3.2"/>
<path d="M814.5 241.0L824.7 258.7L804.3 258.7Z" stroke="#000" stroke-width="3.2"/>
<path d="M822.7 247.2L832.9 264.9L812.5 264.9Z" stroke="#000" stroke-width="3.2"/>
<path d="M830.9 253.6L841.1 271.3L820.7 271.3Z" stroke="#000" stroke-width="3.2"/>
<path d="M839.0 260.4L849.2 278.1L828.8 278.1Z" stroke="#000" stroke-width="3.2"/>
<path d="M847.2 267.6L857.4 285.3L837.0 285.3Z" stroke="#000" stroke-width="3.2"/>
<path d="M855.4 275.3L865.6 293.0L845.2 293.0Z" stroke="#000" stroke-width="3.2"/>
<path d="M863.5 283.2L873.7 300.9L853.3 300.9Z" stroke="#000" stroke-width="3.2"/>
<path d="M871.7 291.3L881.9 309.0L861.5 309.0Z" stroke="#000" stroke-width="3.2"/>
<path d="M879.9 299.1L890.1 316.8L869.7 316.8Z" stroke="#000" stroke-width="3.2"/>
<path d="M888.0 306.6L898.2 324.3L877.8 324.3Z" stroke="#000" stroke-width="3.2"/>
<path d="M896.2 313.5L906.4 331.2L886.0 331.2Z" stroke="#000" stroke-width="3.2"/>
<path d="M904.4 321.7L914.6 339.4L894.2 339.4Z" stroke="#000" stroke-width="3.2"/>
<path d="M912.5 329.4L922.7 347.1L902.3 347.1Z" stroke="#000" stroke-width="3.2"/>
<path d="M920.7 334.1L930.9 351.8L910.5 351.8Z" stroke="#000" stroke-width="3.2"/>
<path d="M928.9 339.8L939.1 357.5L918.7 357.5Z" stroke="#000" stroke-width="3.2"/>
<path d="M937.0 346.0L947.2 363.7L926.8 363.7Z" stroke="#000" stroke-width="3.2"/>
<path d="M945.2 352.5L955.4 370.2L935.0 370.2Z" stroke="#000" stroke-width="3.2"/>
<path d="M953.4 360.1L963.6 377.8L943.2 377.8Z" stroke="#000" stroke-width="3.2"/>
<path d="M961.5 366.2L971.7 383.9L951.3 383.9Z" stroke="#000" stroke-width="3.2"/>
<path d="M969.7 371.7L979.9 389.4L959.5 389.4Z" stroke="#000" stroke-width="3.2"/>
<path d="M977.9 377.0L988.1 394.7L967.7 394.7Z" stroke="#000" stroke-width="3.2"/>
<path d="M986.0 382.6L996.2 400.3L975.8 400.3Z" stroke="#000" stroke-width="3.2"/>
<path d="M994.2 388.5L1004.4 406.2L984.0 406.2Z" stroke="#000" stroke-width="3.2"/>
<path d="M1002.4 394.5L1012.6 412.2L992.2 412.2Z" stroke="#000" stroke-width="3.2"/>
<path d="M1010.5 400.4L1020.7 418.1L1000.3 418.1Z" stroke="#000" stroke-width="3.2"/>
<path d="M1018.7 406.2L1028.9 423.9L1008.5 423.9Z" stroke="#000" stroke-width="3.2"/>
<path d="M1026.9 411.7L1037.1 429.4L1016.7 429.4Z" stroke="#000" stroke-width="3.2"/>
<path d="M1035.0 417.1L1045.2 434.8L1024.8 434.8Z" stroke="#000" stroke-width="3.2"/>
<path d="M1043.2 423.0L1053.4 440.7L1033.0 440.7Z" stroke="#000" stroke-width="3.2"/>
<path d="M1051.4 428.6L1061.6 446.3L1041.2 446.3Z" stroke="#000" stroke-width="3.2"/>
<path d="M1059.5 433.4L1069.7 451.1L1049.3 451.1Z" stroke="#000" stroke-width="3.2"/>
<path d="M1067.7 437.9L1077.9 455.6L1057.5 455.6Z" stroke="#000" stroke-width="3.2"/>
<path d="M1075.9 442.8L1086.1 460.5L1065.7 460.5Z" stroke="#000" stroke-width="3.2"/>
<path d="M1084.0 448.8L1094.2 466.5L1073.8 466.5Z" stroke="#000" stroke-width="3.2"/>
<path d="M1092.2 455.0L1102.4 472.7L1082.0 472.7Z" stroke="#000" stroke-width="3.2"/>
<path d="M1100.4 460.3L1110.6 478.0L1090.2 478.0Z" stroke="#000" stroke-width="3.2"/>
<path d="M1108.5 464.3L1118.8 482.0L1098.3 482.0Z" stroke="#000" stroke-width="3.2"/>
<path d="M1116.7 467.9L1126.9 485.6L1106.5 485.6Z" stroke="#000" stroke-width="3.2"/>
<path d="M1124.9 472.1L1135.1 489.8L1114.7 489.8Z" stroke="#000" stroke-width="3.2"/>
<path d="M1133.1 478.9L1143.3 496.6L1122.9 496.6Z" stroke="#000" stroke-width="3.2"/>
<path d="M1141.2 480.8L1151.4 498.5L1131.0 498.5Z" stroke="#000" stroke-width="3.2"/>
<path d="M1149.4 487.0L1159.6 504.7L1139.2 504.7Z" stroke="#000" stroke-width="3.2"/>
<path d="M1157.6 490.0L1167.8 507.7L1147.4 507.7Z" stroke="#000" stroke-width="3.2"/>
<path d="M1165.7 494.0L1175.9 511.7L1155.5 511.7Z" stroke="#000" stroke-width="3.2"/>
<path d="M732.9 229.3L743.1 247.0L722.7 247.0Z" stroke="#000" stroke-width="3.2"/>
<path d="M741.0 246.0L751.2 263.7L730.8 263.7Z" stroke="#000" stroke-width="3.2"/>
<path d="M749.2 260.6L759.4 278.3L739.0 278.3Z" stroke="#000" stroke-width="3.2"/>
<path d="M757.4 274.4L767.6 292.1L747.2 292.1Z" stroke="#000" stroke-width="3.2"/>
<path d="M765.5 286.3L775.7 304.0L755.3 304.0Z" stroke="#000" stroke-width="3.2"/>
<path d="M773.7 298.7L783.9 316.4L763.5 316.4Z" stroke="#000" stroke-width="3.2"/>
<path d="M781.9 310.5L792.1 328.2L771.7 328.2Z" stroke="#000" stroke-width="3.2"/>
<path d="M790.0 322.5L800.2 340.2L779.8 340.2Z" stroke="#000" stroke-width="3.2"/>
<path d="M798.2 335.1L808.4 352.8L788.0 352.8Z" stroke="#000" stroke-width="3.2"/>
<path d="M806.4 347.6L816.6 365.3L796.2 365.3Z" stroke="#000" stroke-width="3.2"/>
<path d="M814.5 358.8L824.7 376.5L804.3 376.5Z" stroke="#000" stroke-width="3.2"/>
<path d="M822.7 367.9L832.9 385.6L812.5 385.6Z" stroke="#000" stroke-width="3.2"/>
<path d="M830.9 375.7L841.1 393.4L820.7 393.4Z" stroke="#000" stroke-width="3.2"/>
<path d="M839.0 383.0L849.2 400.7L828.8 400.7Z" stroke="#000" stroke-width="3.2"/>
<path d="M847.2 390.5L857.4 408.2L837.0 408.2Z" stroke="#000" stroke-width="3.2"/>
<path d="M855.4 397.8L865.6 415.5L845.2 415.5Z" stroke="#000" stroke-width="3.2"/>
<path d="M863.5 405.0L873.7 422.7L853.3 422.7Z" stroke="#000" stroke-width="3.2"/>
<path d="M871.7 412.3L881.9 430.0L861.5 430.0Z" stroke="#000" stroke-width="3.2"/>
<path d="M879.9 419.8L890.1 437.5L869.7 437.5Z" stroke="#000" stroke-width="3.2"/>
<path d="M888.0 427.6L898.2 445.3L877.8 445.3Z" stroke="#000" stroke-width="3.2"/>
<path d="M896.2 435.3L906.4 453.0L886.0 453.0Z" stroke="#000" stroke-width="3.2"/>
<path d="M904.4 442.8L914.6 460.5L894.2 460.5Z" stroke="#000" stroke-width="3.2"/>
<path d="M912.5 449.8L922.7 467.5L902.3 467.5Z" stroke="#000" stroke-width="3.2"/>
<path d="M920.7 456.1L930.9 473.8L910.5 473.8Z" stroke="#000" stroke-width="3.2"/>
<path d="M928.9 462.1L939.1 479.8L918.7 479.8Z" stroke="#000" stroke-width="3.2"/>
<path d="M937.0 467.9L947.2 485.6L926.8 485.6Z" stroke="#000" stroke-width="3.2"/>
<path d="M945.2 473.4L955.4 491.1L935.0 491.1Z" stroke="#000" stroke-width="3.2"/>
<path d="M953.4 478.8L963.6 496.5L943.2 496.5Z" stroke="#000" stroke-width="3.2"/>
<path d="M961.5 484.2L971.7 501.9L951.3 501.9Z" stroke="#000" stroke-width="3.2"/>
<path d="M969.7 489.7L979.9 507.4L959.5 507.4Z" stroke="#000" stroke-width="3.2"/>
<path d="M977.9 495.1L988.1 512.8L967.7 512.8Z" stroke="#000" stroke-width="3.2"/>
<path d="M986.0 500.0L996.2 517.7L975.8 517.7Z" stroke="#000" stroke-width="3.2"/>
<path d="M994.2 504.7L1004.4 522.4L984.0 522.4Z" stroke="#000" stroke-width="3.2"/>
<path d="M1002.4 509.5L1012.6 527.2L992.2 527.2Z" stroke="#000" stroke-width="3.2"/>
<path d="M1010.5 514.9L1020.7 532.6L1000.3 532.6Z" stroke="#000" stroke-width="3.2"/>
<path d="M1018.7 519.7L1028.9 537.4L1008.5 537.4Z" stroke="#000" stroke-width="3.2"/>
<path d="M1026.9 523.8L1037.1 541.5L1016.7 541.5Z" stroke="#000" stroke-width="3.2"/>
<path d="M708.4 108.5L718.6 126.2L698.2 126.2Z" stroke="#000" stroke-width="3.2"/>
<path d="M716.5 132.7L726.7 150.4L706.3 150.4Z" stroke="#000" stroke-width="3.2"/></g>
<rect x="473.8" y="19.6" width="207.0" height="155.7" fill="#fff" stroke="#111" stroke-width="2.6"/>
<path d="M490.3 37.3L500.2 54.5L480.4 54.5Z" fill="none" stroke="#f00d0d" stroke-width="3.5"/>
<text transform="translate(507.6 54.2) scale(1.014 1)" class="lg">4.1V 2%VC</text>
<path d="M490.3 73.3L500.2 90.5L480.4 90.5Z" fill="none" stroke="#000" stroke-width="3.5"/>
<text transform="translate(507.6 90.2) scale(1.014 1)" class="lg">4.1V PES211</text>
<circle cx="490.3" cy="117.2" r="9.6" fill="none" stroke="#f00d0d" stroke-width="3"/>
<text transform="translate(507.6 126.2) scale(1.014 1)" class="lg">4.2V 2%VC</text>
<circle cx="490.3" cy="153.2" r="9.6" fill="none" stroke="#0d0df0" stroke-width="3"/>
<text transform="translate(507.6 162.2) scale(1.014 1)" class="lg">4.2V PES211</text>
<rect x="1054.5" y="19.6" width="207.5" height="155.7" fill="#fff" stroke="#111" stroke-width="2.6"/>
<path d="M1071.2 37.3L1081.1 54.5L1061.3 54.5Z" fill="none" stroke="#f00d0d" stroke-width="3.5"/>
<text transform="translate(1088.4 54.2) scale(1.014 1)" class="lg">4.3V 2%VC</text>
<path d="M1071.2 73.3L1081.1 90.5L1061.3 90.5Z" fill="none" stroke="#000" stroke-width="3.5"/>
<text transform="translate(1088.4 90.2) scale(1.014 1)" class="lg">4.3V PES211</text>
<circle cx="1071.2" cy="117.2" r="9.6" fill="none" stroke="#f00d0d" stroke-width="3"/>
<text transform="translate(1088.4 126.2) scale(1.014 1)" class="lg">4.4V 2%VC</text>
<circle cx="1071.2" cy="153.2" r="9.6" fill="none" stroke="#0d0df0" stroke-width="3"/>
<text transform="translate(1088.4 162.2) scale(1.014 1)" class="lg">4.4V PES211</text>
<line x1="121.0" y1="555.3" x2="127.8" y2="555.3" stroke="#000" stroke-width="3.3"/>
<line x1="693.2" y1="555.3" x2="686.4" y2="555.3" stroke="#000" stroke-width="3.3"/>
<line x1="121.0" y1="519.6" x2="132.0" y2="519.6" stroke="#000" stroke-width="3.3"/>
<line x1="693.2" y1="519.6" x2="682.2" y2="519.6" stroke="#000" stroke-width="3.3"/>
<line x1="121.0" y1="483.9" x2="127.8" y2="483.9" stroke="#000" stroke-width="3.3"/>
<line x1="693.2" y1="483.9" x2="686.4" y2="483.9" stroke="#000" stroke-width="3.3"/>
<line x1="121.0" y1="448.2" x2="132.0" y2="448.2" stroke="#000" stroke-width="3.3"/>
<line x1="693.2" y1="448.2" x2="682.2" y2="448.2" stroke="#000" stroke-width="3.3"/>
<line x1="121.0" y1="412.5" x2="127.8" y2="412.5" stroke="#000" stroke-width="3.3"/>
<line x1="693.2" y1="412.5" x2="686.4" y2="412.5" stroke="#000" stroke-width="3.3"/>
<line x1="121.0" y1="376.8" x2="132.0" y2="376.8" stroke="#000" stroke-width="3.3"/>
<line x1="693.2" y1="376.8" x2="682.2" y2="376.8" stroke="#000" stroke-width="3.3"/>
<line x1="121.0" y1="341.0" x2="127.8" y2="341.0" stroke="#000" stroke-width="3.3"/>
<line x1="693.2" y1="341.0" x2="686.4" y2="341.0" stroke="#000" stroke-width="3.3"/>
<line x1="121.0" y1="305.3" x2="132.0" y2="305.3" stroke="#000" stroke-width="3.3"/>
<line x1="693.2" y1="305.3" x2="682.2" y2="305.3" stroke="#000" stroke-width="3.3"/>
<line x1="121.0" y1="269.6" x2="127.8" y2="269.6" stroke="#000" stroke-width="3.3"/>
<line x1="693.2" y1="269.6" x2="686.4" y2="269.6" stroke="#000" stroke-width="3.3"/>
<line x1="121.0" y1="233.9" x2="132.0" y2="233.9" stroke="#000" stroke-width="3.3"/>
<line x1="693.2" y1="233.9" x2="682.2" y2="233.9" stroke="#000" stroke-width="3.3"/>
<line x1="121.0" y1="198.2" x2="127.8" y2="198.2" stroke="#000" stroke-width="3.3"/>
<line x1="693.2" y1="198.2" x2="686.4" y2="198.2" stroke="#000" stroke-width="3.3"/>
<line x1="121.0" y1="162.5" x2="132.0" y2="162.5" stroke="#000" stroke-width="3.3"/>
<line x1="693.2" y1="162.5" x2="682.2" y2="162.5" stroke="#000" stroke-width="3.3"/>
<line x1="121.0" y1="126.7" x2="127.8" y2="126.7" stroke="#000" stroke-width="3.3"/>
<line x1="693.2" y1="126.7" x2="686.4" y2="126.7" stroke="#000" stroke-width="3.3"/>
<line x1="121.0" y1="91.0" x2="132.0" y2="91.0" stroke="#000" stroke-width="3.3"/>
<line x1="693.2" y1="91.0" x2="682.2" y2="91.0" stroke="#000" stroke-width="3.3"/>
<line x1="121.0" y1="55.3" x2="127.8" y2="55.3" stroke="#000" stroke-width="3.3"/>
<line x1="693.2" y1="55.3" x2="686.4" y2="55.3" stroke="#000" stroke-width="3.3"/>
<line x1="202.7" y1="591.0" x2="202.7" y2="584.4" stroke="#000" stroke-width="3.3"/>
<line x1="284.4" y1="591.0" x2="284.4" y2="580.0" stroke="#000" stroke-width="3.3"/>
<line x1="366.1" y1="591.0" x2="366.1" y2="584.4" stroke="#000" stroke-width="3.3"/>
<line x1="447.8" y1="591.0" x2="447.8" y2="580.0" stroke="#000" stroke-width="3.3"/>
<line x1="529.5" y1="591.0" x2="529.5" y2="584.4" stroke="#000" stroke-width="3.3"/>
<line x1="611.2" y1="591.0" x2="611.2" y2="580.0" stroke="#000" stroke-width="3.3"/>
<line x1="216.2" y1="19.6" x2="216.2" y2="26.4" stroke="#000" stroke-width="3.3"/>
<line x1="311.7" y1="19.6" x2="311.7" y2="30.6" stroke="#000" stroke-width="3.3"/>
<line x1="407.2" y1="19.6" x2="407.2" y2="26.4" stroke="#000" stroke-width="3.3"/>
<line x1="502.7" y1="19.6" x2="502.7" y2="30.6" stroke="#000" stroke-width="3.3"/>
<line x1="598.2" y1="19.6" x2="598.2" y2="26.4" stroke="#000" stroke-width="3.3"/>
<rect x="121.0" y="19.6" width="572.2" height="571.4" fill="none" stroke="#000" stroke-width="3.6"/>
<line x1="700.0" y1="555.3" x2="706.8" y2="555.3" stroke="#000" stroke-width="3.3"/>
<line x1="1272.2" y1="555.3" x2="1265.4" y2="555.3" stroke="#000" stroke-width="3.3"/>
<line x1="700.0" y1="519.6" x2="711.0" y2="519.6" stroke="#000" stroke-width="3.3"/>
<line x1="1272.2" y1="519.6" x2="1261.2" y2="519.6" stroke="#000" stroke-width="3.3"/>
<line x1="700.0" y1="483.9" x2="706.8" y2="483.9" stroke="#000" stroke-width="3.3"/>
<line x1="1272.2" y1="483.9" x2="1265.4" y2="483.9" stroke="#000" stroke-width="3.3"/>
<line x1="700.0" y1="448.2" x2="711.0" y2="448.2" stroke="#000" stroke-width="3.3"/>
<line x1="1272.2" y1="448.2" x2="1261.2" y2="448.2" stroke="#000" stroke-width="3.3"/>
<line x1="700.0" y1="412.5" x2="706.8" y2="412.5" stroke="#000" stroke-width="3.3"/>
<line x1="1272.2" y1="412.5" x2="1265.4" y2="412.5" stroke="#000" stroke-width="3.3"/>
<line x1="700.0" y1="376.8" x2="711.0" y2="376.8" stroke="#000" stroke-width="3.3"/>
<line x1="1272.2" y1="376.8" x2="1261.2" y2="376.8" stroke="#000" stroke-width="3.3"/>
<line x1="700.0" y1="341.0" x2="706.8" y2="341.0" stroke="#000" stroke-width="3.3"/>
<line x1="1272.2" y1="341.0" x2="1265.4" y2="341.0" stroke="#000" stroke-width="3.3"/>
<line x1="700.0" y1="305.3" x2="711.0" y2="305.3" stroke="#000" stroke-width="3.3"/>
<line x1="1272.2" y1="305.3" x2="1261.2" y2="305.3" stroke="#000" stroke-width="3.3"/>
<line x1="700.0" y1="269.6" x2="706.8" y2="269.6" stroke="#000" stroke-width="3.3"/>
<line x1="1272.2" y1="269.6" x2="1265.4" y2="269.6" stroke="#000" stroke-width="3.3"/>
<line x1="700.0" y1="233.9" x2="711.0" y2="233.9" stroke="#000" stroke-width="3.3"/>
<line x1="1272.2" y1="233.9" x2="1261.2" y2="233.9" stroke="#000" stroke-width="3.3"/>
<line x1="700.0" y1="198.2" x2="706.8" y2="198.2" stroke="#000" stroke-width="3.3"/>
<line x1="1272.2" y1="198.2" x2="1265.4" y2="198.2" stroke="#000" stroke-width="3.3"/>
<line x1="700.0" y1="162.5" x2="711.0" y2="162.5" stroke="#000" stroke-width="3.3"/>
<line x1="1272.2" y1="162.5" x2="1261.2" y2="162.5" stroke="#000" stroke-width="3.3"/>
<line x1="700.0" y1="126.7" x2="706.8" y2="126.7" stroke="#000" stroke-width="3.3"/>
<line x1="1272.2" y1="126.7" x2="1265.4" y2="126.7" stroke="#000" stroke-width="3.3"/>
<line x1="700.0" y1="91.0" x2="711.0" y2="91.0" stroke="#000" stroke-width="3.3"/>
<line x1="1272.2" y1="91.0" x2="1261.2" y2="91.0" stroke="#000" stroke-width="3.3"/>
<line x1="700.0" y1="55.3" x2="706.8" y2="55.3" stroke="#000" stroke-width="3.3"/>
<line x1="1272.2" y1="55.3" x2="1265.4" y2="55.3" stroke="#000" stroke-width="3.3"/>
<line x1="781.9" y1="591.0" x2="781.9" y2="584.4" stroke="#000" stroke-width="3.3"/>
<line x1="863.5" y1="591.0" x2="863.5" y2="580.0" stroke="#000" stroke-width="3.3"/>
<line x1="945.2" y1="591.0" x2="945.2" y2="584.4" stroke="#000" stroke-width="3.3"/>
<line x1="1026.9" y1="591.0" x2="1026.9" y2="580.0" stroke="#000" stroke-width="3.3"/>
<line x1="1108.5" y1="591.0" x2="1108.5" y2="584.4" stroke="#000" stroke-width="3.3"/>
<line x1="1190.2" y1="591.0" x2="1190.2" y2="580.0" stroke="#000" stroke-width="3.3"/>
<line x1="781.9" y1="19.6" x2="781.9" y2="26.4" stroke="#000" stroke-width="3.3"/>
<line x1="863.5" y1="19.6" x2="863.5" y2="30.6" stroke="#000" stroke-width="3.3"/>
<line x1="945.2" y1="19.6" x2="945.2" y2="26.4" stroke="#000" stroke-width="3.3"/>
<line x1="1026.9" y1="19.6" x2="1026.9" y2="30.6" stroke="#000" stroke-width="3.3"/>
<line x1="1108.5" y1="19.6" x2="1108.5" y2="26.4" stroke="#000" stroke-width="3.3"/>
<line x1="1190.2" y1="19.6" x2="1190.2" y2="30.6" stroke="#000" stroke-width="3.3"/>
<rect x="700.0" y="19.6" width="572.2" height="571.4" fill="none" stroke="#000" stroke-width="3.6"/>
<path d="M62.23 579.54L67.33 579.54L67.33 603.44L62.23 603.44L62.23 586.04C60.83 586.84 58.83 587.24 56.63 587.24L56.63 583.94C59.43 583.64 61.63 582.24 62.23 579.54Z" fill="#000"/>
<text x="74.22" y="603.4" class="tk">4</text>
<text x="93.41" y="603.4" class="tk">0</text>
<path d="M62.23 508.11L67.33 508.11L67.33 532.01L62.23 532.01L62.23 514.61C60.83 515.41 58.83 515.81 56.63 515.81L56.63 512.51C59.43 512.21 61.63 510.81 62.23 508.11Z" fill="#000"/>
<text x="74.22" y="532.0" class="tk">5</text>
<text x="93.41" y="532.0" class="tk">0</text>
<path d="M62.23 436.68L67.33 436.68L67.33 460.58L62.23 460.58L62.23 443.18C60.83 443.98 58.83 444.38 56.63 444.38L56.63 441.08C59.43 440.78 61.63 439.38 62.23 436.68Z" fill="#000"/>
<text x="74.22" y="460.6" class="tk">6</text>
<text x="93.41" y="460.6" class="tk">0</text>
<path d="M62.23 365.25L67.33 365.25L67.33 389.15L62.23 389.15L62.23 371.75C60.83 372.55 58.83 372.95 56.63 372.95L56.63 369.65C59.43 369.35 61.63 367.95 62.23 365.25Z" fill="#000"/>
<text x="74.22" y="389.1" class="tk">7</text>
<text x="93.41" y="389.1" class="tk">0</text>
<path d="M62.23 293.82L67.33 293.82L67.33 317.72L62.23 317.72L62.23 300.32C60.83 301.12 58.83 301.52 56.63 301.52L56.63 298.22C59.43 297.92 61.63 296.52 62.23 293.82Z" fill="#000"/>
<text x="74.22" y="317.7" class="tk">8</text>
<text x="93.41" y="317.7" class="tk">0</text>
<path d="M62.23 222.39L67.33 222.39L67.33 246.29L62.23 246.29L62.23 228.89C60.83 229.69 58.83 230.09 56.63 230.09L56.63 226.79C59.43 226.49 61.63 225.09 62.23 222.39Z" fill="#000"/>
<text x="74.22" y="246.3" class="tk">9</text>
<text x="93.41" y="246.3" class="tk">0</text>
<text x="55.03" y="174.9" class="tk">2</text>
<text x="74.22" y="174.9" class="tk">0</text>
<text x="93.41" y="174.9" class="tk">0</text>
<text x="55.03" y="103.4" class="tk">2</text>
<path d="M81.42 79.53L86.52 79.53L86.52 103.43L81.42 103.43L81.42 86.03C80.02 86.83 78.02 87.23 75.82 87.23L75.82 83.93C78.62 83.63 80.82 82.23 81.42 79.53Z" fill="#000"/>
<text x="93.41" y="103.4" class="tk">0</text>
<text x="55.03" y="32.0" class="tk">2</text>
<text x="74.22" y="32.0" class="tk">2</text>
<text x="93.41" y="32.0" class="tk">0</text>
<text x="121.0" y="631.6" class="tk" text-anchor="middle">0</text>
<text x="284.4" y="631.6" class="tk" text-anchor="middle">20</text>
<text x="447.8" y="631.6" class="tk" text-anchor="middle">40</text>
<text x="611.2" y="631.6" class="tk" text-anchor="middle">60</text>
<text x="700.2" y="631.6" class="tk" text-anchor="middle">0</text>
<text x="863.5" y="631.6" class="tk" text-anchor="middle">20</text>
<text x="1026.9" y="631.6" class="tk" text-anchor="middle">40</text>
<text x="1190.2" y="631.6" class="tk" text-anchor="middle">60</text>
<text x="397.9" y="670.5" class="ax" text-anchor="middle">Cycle Number</text>
<text x="978.2" y="670.5" class="ax" text-anchor="middle">Cycle Number</text>
<text transform="translate(31.6 303.5) rotate(-90)" class="ax" text-anchor="middle">Capacity (mAh)</text>
</g>
</svg>
</body></html>
